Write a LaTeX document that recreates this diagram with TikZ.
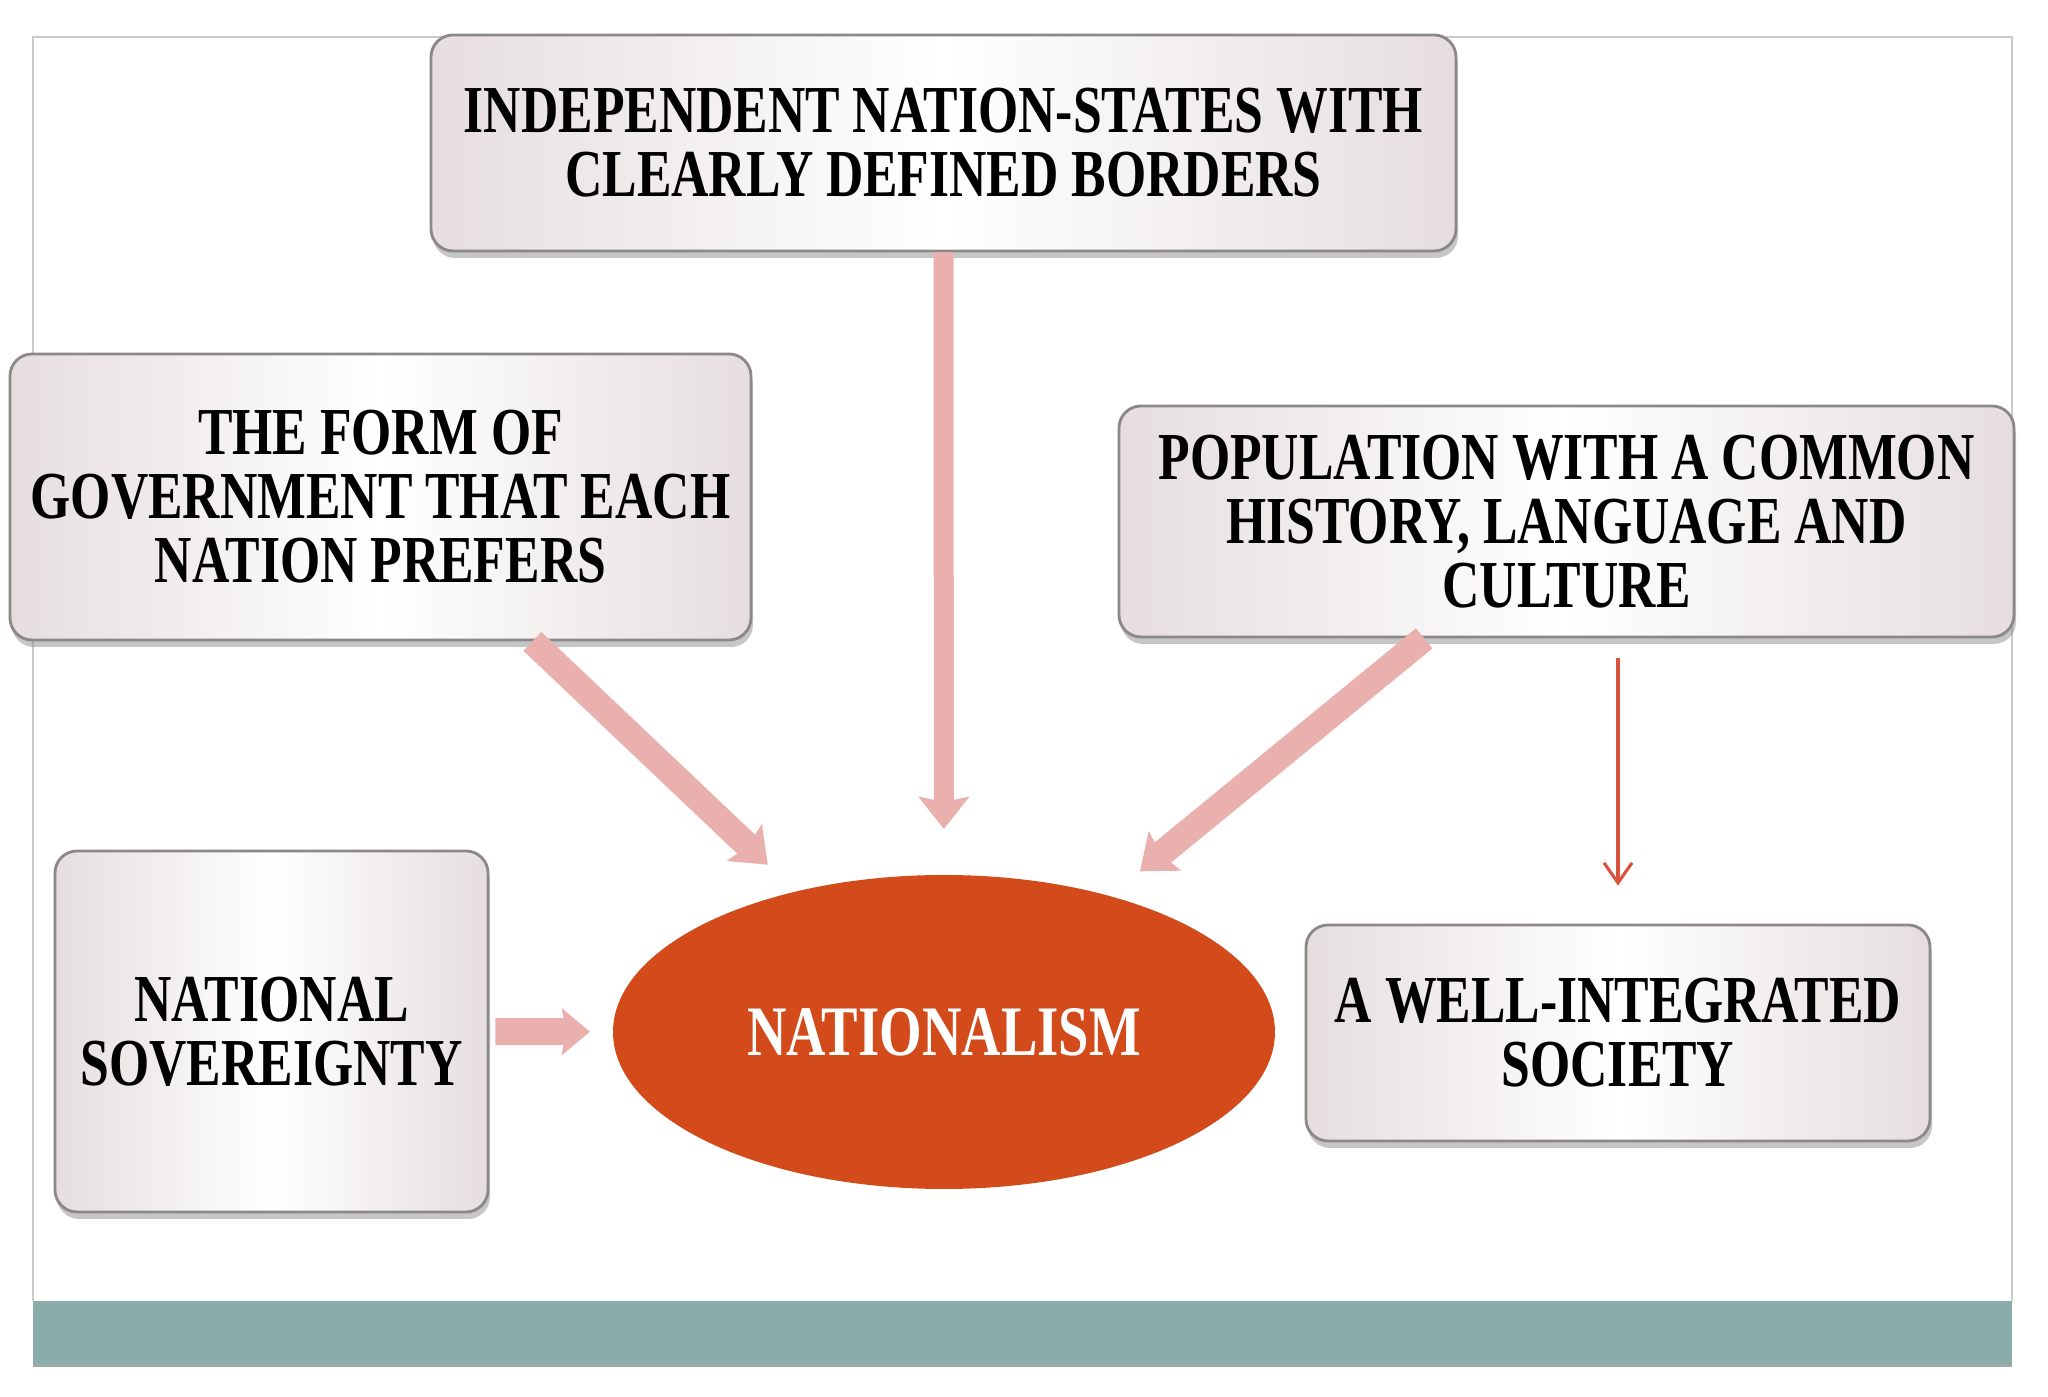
\documentclass[tikz,border=0pt]{standalone}
\usepackage{fontspec}
\setmainfont{Liberation Serif}[FakeStretch=0.77]
\usetikzlibrary{arrows.meta,shadows,shapes.geometric}
\definecolor{boxedge}{HTML}{E6DEDE}
\definecolor{boxline}{HTML}{8C8888}
\definecolor{blockpink}{HTML}{E9B0AE}
\definecolor{natred}{HTML}{D34A1B}
\definecolor{thinred}{HTML}{D9533C}
\definecolor{barteal}{HTML}{8AADAA}
\definecolor{framegray}{HTML}{C9CBCB}
\newcommand{\slidefont}{\fontsize{19.1}{18.2}\selectfont\bfseries}

\begin{document}
\begin{tikzpicture}[
	idea/.style={draw=boxline, line width=0.8pt, rounded corners=0.22cm,
		left color=boxedge, right color=boxedge, middle color=white,
		drop shadow={shadow xshift=0.02cm, shadow yshift=-0.07cm, opacity=0.45},
		align=center, inner sep=0pt, font=\slidefont},
	blockarrow/.style={draw=blockpink, line width=0.26cm,
		-{Stealth[length=0.32cm,width=0.5cm,inset=0.05cm]}},
	thinarrow/.style={draw=thinred, line width=0.9pt,
		-{Straight Barb[length=0.2cm,width=0.28cm]}}
	]
		%\draw [help lines] (0,0) grid (20,14);
		\useasboundingbox (0,0) rectangle (20.48,13.97);
		\draw[framegray, line width=0.6pt] (0.33,0.96) -- (0.33,13.60) -- (20.12,13.60) -- (20.12,0.96);
		\fill[barteal] (0.33,0.31) rectangle (20.12,0.96);
		\draw[gray!70, line width=0.6pt] (0.33,0.31) -- (20.12,0.31);

		\node[idea, minimum width=10.25cm, minimum height=2.16cm] (borders) at (9.435,12.54)
			{INDEPENDENT NATION-STATES WITH\\CLEARLY DEFINED BORDERS};
		\node[idea, minimum width=7.41cm, minimum height=2.86cm] (govt) at (3.805,9.00)
			{THE FORM OF\\GOVERNMENT THAT EACH\\NATION PREFERS};
		\node[idea, minimum width=8.95cm, minimum height=2.31cm] (people) at (15.665,8.755)
			{POPULATION WITH A COMMON\\HISTORY, LANGUAGE AND\\CULTURE};
		\node[idea, minimum width=4.33cm, minimum height=3.61cm] (sovereign) at (2.715,3.655)
			{NATIONAL\\SOVEREIGNTY};
		\node[idea, minimum width=6.24cm, minimum height=2.16cm] (society) at (16.18,3.64)
			{A WELL-INTEGRATED\\SOCIETY};
		\node[ellipse, fill=natred, inner sep=0pt, outer sep=0pt, minimum width=6.62cm,
			minimum height=3.14cm, text=white, font=\fontsize{20.2}{20}\selectfont\bfseries]
			(nat) at (9.44,3.65) {NATIONALISM};

		\draw[blockarrow, line width=0.2cm, shorten >=0.46cm] (borders) -- (nat);
		\draw[blockarrow, shorten >=0.39cm] (govt) -- (nat);
		\draw[blockarrow, shorten >=0.39cm] (people) -- (nat);
		\draw[blockarrow, line width=0.27cm, shorten >=0.23cm, shorten <=0.06cm,
			-{Stealth[length=0.28cm,width=0.46cm,inset=0.04cm]}] (sovereign) -- (nat);
		\coordinate (dropstart) at (society.north |- people.south);
		\draw[thinarrow, shorten <=0.2cm, shorten >=0.38cm] (dropstart) -- (society.north);
	\end{tikzpicture}
\end{document}
